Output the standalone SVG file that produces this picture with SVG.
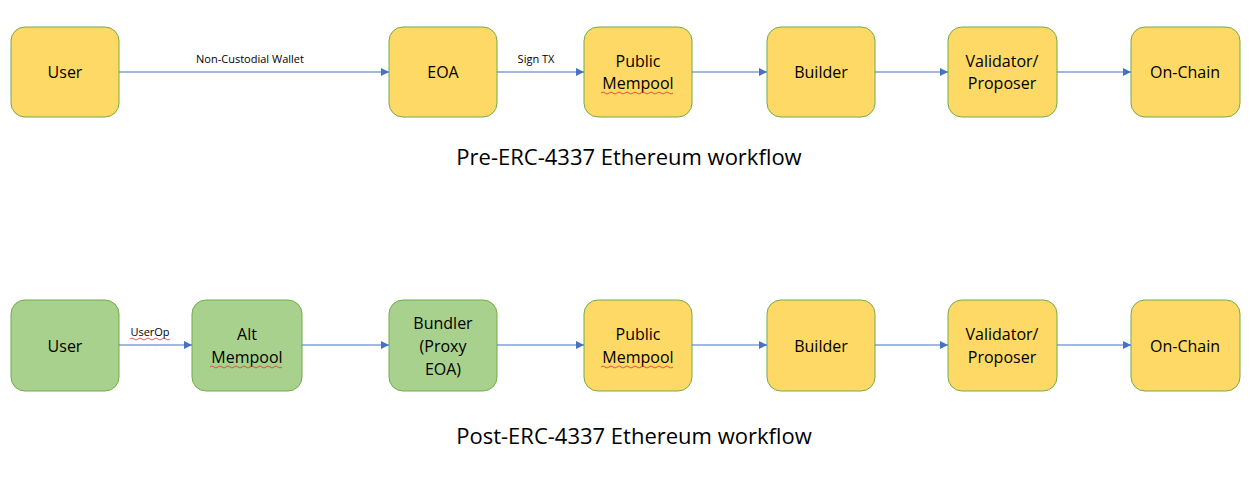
<svg xmlns="http://www.w3.org/2000/svg" width="1250" height="487" viewBox="0 0 1250 487">
<style>
.y{fill:#FFD966;stroke:#70AD47;stroke-width:1}
.g{fill:#A9D18E;stroke:#70AD47;stroke-width:1}
.t{font-family:"Open Sans","Liberation Sans",sans-serif;font-size:16px;fill:#000;text-anchor:middle}
.s{font-family:"Open Sans","Liberation Sans",sans-serif;font-size:11px;fill:#000;text-anchor:middle}
.h{font-family:"Open Sans","Liberation Sans",sans-serif;font-size:22px;fill:#000;text-anchor:middle}
.c line{stroke:#4472C4;stroke-width:1.2;marker-end:url(#a)}
.w{fill:none;stroke:#E03030;stroke-width:0.8}
</style>
<defs><marker id="a" viewBox="0 0 10 10" refX="10" refY="5" markerWidth="7" markerHeight="7" orient="auto"><path d="M0,0L10,5L0,10z" fill="#4472C4"/></marker></defs>
<rect width="1250" height="487" fill="#fff"/>
<g id="n1"><rect class="y" x="11" y="27" width="108" height="90" rx="14"/><text class="t" x="65" y="78">User</text></g>
<g id="n2"><rect class="y" x="389" y="27" width="108" height="90" rx="14"/><text class="t" x="443" y="78">EOA</text></g>
<g id="n3"><rect class="y" x="584" y="27" width="108" height="90" rx="14"/><text class="t" x="638" y="67">Public</text><text class="t" x="638" y="89">Mempool</text></g>
<g id="n4"><rect class="y" x="767" y="27" width="108" height="90" rx="14"/><text class="t" x="821" y="78">Builder</text></g>
<g id="n5"><rect class="y" x="948" y="27" width="109" height="90" rx="14"/><text class="t" x="1002" y="67">Validator/</text><text class="t" x="1002" y="89">Proposer</text></g>
<g id="n6"><rect class="y" x="1131" y="27" width="109" height="90" rx="14"/><text class="t" x="1185" y="78">On-Chain</text></g>
<g id="m1"><rect class="g" x="11" y="300" width="108" height="91" rx="14"/><text class="t" x="65" y="352">User</text></g>
<g id="m2"><rect class="g" x="192" y="300" width="110" height="91" rx="14"/><text class="t" x="247" y="340">Alt</text><text class="t" x="247" y="363">Mempool</text></g>
<g id="m3"><rect class="g" x="389" y="300" width="108" height="91" rx="14"/><text class="t" x="443" y="329">Bundler</text><text class="t" x="443" y="352">(Proxy</text><text class="t" x="443" y="375">EOA)</text></g>
<g id="m4"><rect class="y" x="584" y="300" width="108" height="91" rx="14"/><text class="t" x="638" y="340">Public</text><text class="t" x="638" y="363">Mempool</text></g>
<g id="m5"><rect class="y" x="767" y="300" width="108" height="91" rx="14"/><text class="t" x="821" y="352">Builder</text></g>
<g id="m6"><rect class="y" x="948" y="300" width="109" height="91" rx="14"/><text class="t" x="1002" y="340">Validator/</text><text class="t" x="1002" y="363">Proposer</text></g>
<g id="m7"><rect class="y" x="1131" y="300" width="109" height="91" rx="14"/><text class="t" x="1185" y="352">On-Chain</text></g>
<g class="c">
<line x1="119" y1="72" x2="389" y2="72"/><line x1="497" y1="72" x2="584" y2="72"/><line x1="692" y1="72" x2="767" y2="72"/><line x1="875" y1="72" x2="948" y2="72"/><line x1="1057" y1="72" x2="1131" y2="72"/>
<line x1="119" y1="345" x2="192" y2="345"/><line x1="302" y1="345" x2="389" y2="345"/><line x1="497" y1="345" x2="584" y2="345"/><line x1="692" y1="345" x2="767" y2="345"/><line x1="875" y1="345" x2="948" y2="345"/><line x1="1057" y1="345" x2="1131" y2="345"/>
</g>
<text class="s" x="250" y="63">Non-Custodial Wallet</text>
<text class="s" x="536" y="63">Sign TX</text>
<text class="s" x="150" y="336">UserOp</text>
<path class="w" d="M601,93 q2,-2 4,0 t4,0 t4,0 t4,0 t4,0 t4,0 t4,0 t4,0 t4,0 t4,0 t4,0 t4,0 t4,0 t4,0 t4,0 t4,0 t4,0 t4,0"/>
<path class="w" d="M210,367 q2,-2 4,0 t4,0 t4,0 t4,0 t4,0 t4,0 t4,0 t4,0 t4,0 t4,0 t4,0 t4,0 t4,0 t4,0 t4,0 t4,0 t4,0 t4,0"/>
<path class="w" d="M601,367 q2,-2 4,0 t4,0 t4,0 t4,0 t4,0 t4,0 t4,0 t4,0 t4,0 t4,0 t4,0 t4,0 t4,0 t4,0 t4,0 t4,0 t4,0 t4,0"/>
<path class="w" d="M130,339 q2,-2 4,0 t4,0 t4,0 t4,0 t4,0 t4,0 t4,0 t4,0 t4,0 t4,0"/>
<text class="h" x="629" y="165">Pre-ERC-4337 Ethereum workflow</text>
<text class="h" x="634" y="444">Post-ERC-4337 Ethereum workflow</text>
</svg>
